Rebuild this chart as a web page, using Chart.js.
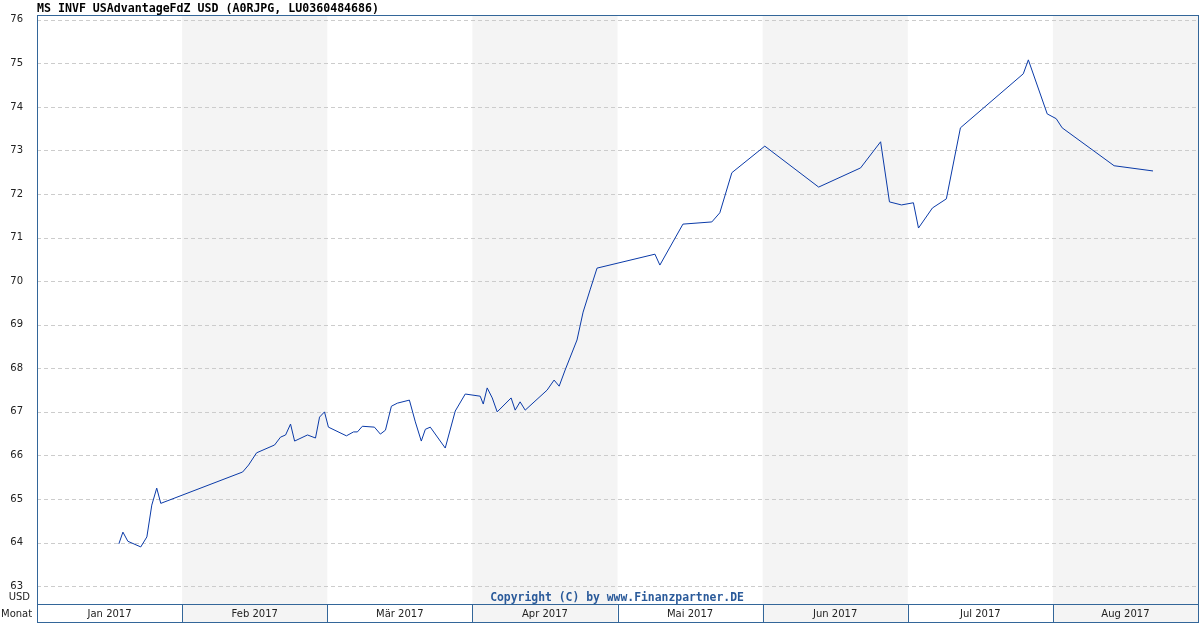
<!DOCTYPE html>
<html><head><meta charset="utf-8">
<script src="https://cdn.jsdelivr.net/npm/chart.js@4"></script>
<style>html,body{margin:0;padding:0;background:#fff}#w{width:1200px;height:630px}</style>
</head><body><div id="w"><canvas id="c" width="1200" height="630"></canvas></div>
<script>
const title = "MS INVF USAdvantageFdZ USD (A0RJPG, LU0360484686)";
const months = ["Jan 2017","Feb 2017","Mär 2017","Apr 2017","Mai 2017","Jun 2017","Jul 2017","Aug 2017"];
const yTicks = [63,64,65,66,67,68,69,70,71,72,73,74,75,76];
// x in month units (0 = start of Jan 2017)
const xPos = [0.564,0.592,0.626,0.715,0.757,0.791,0.825,0.853,1.417,1.458,1.513,1.637,1.678,1.713,1.747,1.775,1.864,1.919,1.947,1.981,2.008,2.132,2.181,2.208,2.242,2.325,2.366,2.401,2.442,2.483,2.566,2.607,2.648,2.676,2.710,2.813,2.882,2.951,3.054,3.075,3.102,3.137,3.171,3.267,3.295,3.329,3.364,3.515,3.563,3.598,3.639,3.721,3.763,3.811,3.859,4.258,4.292,4.451,4.650,4.705,4.788,5.015,5.386,5.675,5.813,5.874,5.957,6.039,6.074,6.170,6.266,6.363,6.796,6.831,6.961,7.023,7.064,7.422,7.690];
const prices = [63.97,64.24,64.03,63.9,64.13,64.86,65.25,64.9,65.62,65.78,66.06,66.24,66.42,66.47,66.72,66.33,66.47,66.4,66.88,67.0,66.65,66.45,66.54,66.54,66.67,66.65,66.49,66.58,67.13,67.2,67.27,66.77,66.33,66.6,66.65,66.17,67.02,67.41,67.36,67.18,67.55,67.32,67.0,67.32,67.04,67.23,67.04,67.5,67.73,67.59,67.96,68.65,69.29,69.8,70.3,70.62,70.37,71.31,71.36,71.57,72.49,73.1,72.16,72.6,73.2,71.82,71.75,71.8,71.22,71.68,71.89,73.52,74.76,75.08,73.84,73.73,73.52,72.65,72.53];
const BLUE = "#336699";
const LBL = "10px 'DejaVu Sans'";
const deco = {
  id:"deco",
  beforeDatasetsDraw(ch){
    const {ctx, chartArea:a, scales:{x}} = ch;
    ctx.save();
    for(let i=1;i<months.length;i+=2){
      ctx.fillStyle="#f4f4f4";
      ctx.fillRect(x.getPixelForValue(i),a.top,x.getPixelForValue(i+1)-x.getPixelForValue(i),a.bottom-a.top);
    }
    const y=ch.scales.y;
    ctx.strokeStyle="#cccccc";ctx.setLineDash([4,3]);ctx.lineWidth=1;
    yTicks.forEach(v=>{const p=Math.round(y.getPixelForValue(v))+0.5;ctx.beginPath();ctx.moveTo(a.left,p);ctx.lineTo(a.right,p);ctx.stroke();});
    ctx.restore();
  },
  afterDraw(ch){
    const {ctx, chartArea:a, scales:{x}} = ch;
    ctx.save();
    ctx.strokeStyle=BLUE;ctx.lineWidth=1;
    ctx.strokeRect(a.left+0.5,a.top+0.5,a.right-a.left,a.bottom-a.top);
    const bt=a.bottom, bb=622;
    for(let i=0;i<months.length;i++){
      const x0=x.getPixelForValue(i), x1=x.getPixelForValue(i+1);
      ctx.fillStyle = i%2? "#f4f4f4":"#ffffff";
      ctx.fillRect(x0,bt,x1-x0,bb-bt);
    }
    ctx.strokeRect(a.left+0.5,bt+0.5,a.right-a.left,bb-bt);
    for(let i=1;i<months.length;i++){const p=Math.round(x.getPixelForValue(i))+0.5;ctx.beginPath();ctx.moveTo(p,bt);ctx.lineTo(p,bb);ctx.stroke();}
    ctx.fillStyle="#222";ctx.font=LBL;ctx.textAlign="center";ctx.textBaseline="middle";
    for(let i=0;i<months.length;i++) ctx.fillText(months[i],(x.getPixelForValue(i)+x.getPixelForValue(i+1))/2,(bt+bb)/2+1);
    ctx.textAlign="left";ctx.fillText("Monat",1,(bt+bb)/2+1);
    ctx.textAlign="right";ctx.fillText("USD",a.left-7,bt-7);
    ctx.fillStyle="#000";ctx.font="bold 11.6px 'DejaVu Sans Mono'";ctx.textAlign="left";ctx.fillText(title,37,9);
    ctx.fillStyle="#2a5a9a";ctx.font="bold 11.4px 'DejaVu Sans Mono'";ctx.textAlign="center";ctx.fillText("Copyright (C) by www.Finanzpartner.DE",617,598);
    ctx.restore();
  }
};
new Chart(document.getElementById("c"),{
  type:"line",
  data:{datasets:[{data:xPos.map((v,i)=>({x:v,y:prices[i]})),borderColor:"#0a3aa8",borderWidth:1,pointRadius:0,tension:0,fill:false}]},
  options:{
    responsive:false,animation:false,devicePixelRatio:1,
    layout:{padding:{left:0,top:15,right:2,bottom:26}},
    plugins:{legend:{display:false},tooltip:{enabled:false}},
    scales:{
      x:{type:"linear",min:0,max:8,display:false},
      y:{min:62.59,max:76.11,
        afterBuildTicks(s){s.ticks=yTicks.map(v=>({value:v}));},
        afterFit(s){s.width=37;},
        grid:{display:false},border:{display:false},
        ticks:{color:"#222",font:{family:"DejaVu Sans",size:10},padding:6}}
    }
  },
  plugins:[deco]
});
</script></body></html>
